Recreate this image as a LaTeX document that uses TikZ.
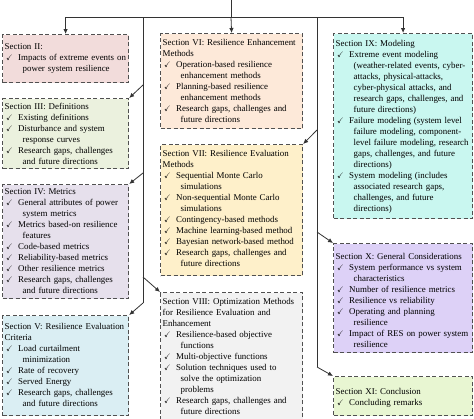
\documentclass[tikz,border=0pt]{standalone}
\usepackage{fontspec}
\setmainfont{Liberation Serif}
\usepackage{amssymb}
\usepackage{tikz}
\usetikzlibrary{arrows.meta, positioning, calc}

% box colours
\definecolor{fillII}{HTML}{F2DCDB}
\definecolor{fillIII}{HTML}{EBF1DE}
\definecolor{fillIV}{HTML}{E6E0EC}
\definecolor{fillV}{HTML}{DAEEF3}
\definecolor{fillVI}{HTML}{FDE9D9}
\definecolor{fillVII}{HTML}{FEF0CA}
\definecolor{fillVIII}{HTML}{F2F2F2}
\definecolor{fillIX}{HTML}{C9F7F0}
\definecolor{fillX}{HTML}{DDD1F7}
\definecolor{fillXI}{HTML}{E8F6D2}
\definecolor{edgegray}{HTML}{505050}

% check item with hanging indent
\newcommand{\chk}{\par\hangindent=18pt\hangafter=1\noindent\makebox[13.5pt][l]{\hspace{1.5pt}\scalebox{0.9}{$\checkmark$}}}

\begin{document}
\begin{tikzpicture}[x=1pt, y=-1pt,
    secbox/.style={draw=edgegray, line width=1.2pt, dash pattern=on 4pt off 2.5pt,
        anchor=north west, inner sep=0pt},
    sectext/.style={anchor=north west, inner sep=0pt, align=left,
        font=\fontsize{8.9}{11}\selectfont},
    wire/.style={draw=black!80, line width=0.8pt},
    arr/.style={wire, -{Latex[length=5pt,width=4.5pt]}}]

            \useasboundingbox (0,0) rectangle (474,418);

            % Left column
            \node[secbox, fill=fillII, minimum width=126pt, minimum height=48pt] (s2) at (2,34) {};
            \node[sectext, text width=123pt] (t2) at ([xshift=2.5pt,yshift=-9pt]s2.north west) {Section II:
                \chk Impacts of extreme events on\newline power system resilience\par};

            \node[secbox, fill=fillIII, minimum width=126pt, minimum height=70pt] (s3) at (2,98) {};
            \node[sectext, text width=123pt] (t3) at ([xshift=2.5pt,yshift=-5pt]s3.north west) {Section III: Definitions
                \chk Existing definitions
                \chk Disturbance and system\newline response curves
                \chk Research gaps, challenges\newline and future directions\par};

            \node[secbox, fill=fillIV, minimum width=126pt, minimum height=114pt] (s4) at (2,184) {};
            \node[sectext, text width=123pt] (t4) at ([xshift=2.5pt,yshift=-4pt]s4.north west) {Section IV: Metrics
                \chk General attributes of power\newline system metrics
                \chk Metrics based-on resilience\newline features
                \chk Code-based metrics
                \chk Reliability-based metrics
                \chk Other resilience metrics
                \chk Research gaps, challenges\newline and future directions\par};

            \node[secbox, fill=fillV, minimum width=126pt, minimum height=100pt] (s5) at (2,315) {};
            \node[sectext, text width=123pt] (t5) at ([xshift=2.5pt,yshift=-8pt]s5.north west) {Section V: Resilience Evaluation\newline Criteria
                \chk Load curtailment\newline minimization
                \chk Rate of recovery
                \chk Served Energy
                \chk Research gaps, challenges\newline and future directions\par};

            % Middle column
            \node[secbox, fill=fillVI, minimum width=142pt, minimum height=95pt] (s6) at (160,33) {};
            \node[sectext, text width=139pt] (t6) at ([xshift=2.5pt,yshift=-6pt]s6.north west) {Section VI: Resilience Enhancement\newline Methods
                \chk Operation-based resilience\newline enhancement methods
                \chk Planning-based resilience\newline enhancement methods
                \chk Research gaps, challenges and\newline future directions\par};

            \node[secbox, fill=fillVII, minimum width=142pt, minimum height=131pt] (s7) at (160,144) {};
            \node[sectext, text width=139pt] (t7) at ([xshift=2.5pt,yshift=-6pt]s7.north west) {Section VII: Resilience Evaluation\newline Methods
                \chk Sequential Monte Carlo\newline simulations
                \chk Non-sequential Monte Carlo\newline simulations
                \chk Contingency-based methods
                \chk Machine learning-based method
                \chk Bayesian network-based method
                \chk Research gaps, challenges and\newline future directions\par};

            \node[secbox, fill=fillVIII, minimum width=142pt, minimum height=132pt] (s8) at (160,292) {};
            \node[sectext, text width=139pt] (t8) at ([xshift=2.5pt,yshift=-6pt]s8.north west) {Section VIII: Optimization Methods\newline for Resilience Evaluation and\newline Enhancement
                \chk Resilience-based objective\newline functions
                \chk Multi-objective functions
                \chk Solution techniques used to\newline solve the optimization\newline problems
                \chk Research gaps, challenges and\newline future directions\par};

            % Right column
            \node[secbox, fill=fillIX, minimum width=139pt, minimum height=185pt] (s9) at (333,33) {};
            \node[sectext, text width=136pt] (t9) at ([xshift=2.5pt,yshift=-7pt]s9.north west) {Section IX: Modeling
                \chk Extreme event modeling\newline (weather-related events, cyber-\newline attacks, physical-attacks,\newline cyber-physical attacks, and\newline research gaps, challenges, and\newline future directions)
                \chk Failure modeling (system level\newline failure modeling, component-\newline level failure modeling, research\newline gaps, challenges, and future\newline directions)
                \chk System modeling (includes\newline associated research gaps,\newline challenges, and future\newline directions)\par};

            \node[secbox, fill=fillX, minimum width=139pt, minimum height=109pt] (s10) at (333,243) {};
            \node[sectext, text width=136pt] (t10) at ([xshift=2.5pt,yshift=-10pt]s10.north west) {Section X: General Considerations
                \chk System performance vs system\newline characteristics
                \chk Number of resilience metrics
                \chk Resilience vs reliability
                \chk Operating and planning\newline resilience
                \chk Impact of RES on power system\newline resilience\par};

            \node[secbox, fill=fillXI, minimum width=139pt, minimum height=39pt] (s11) at (333,376) {};
            \node[sectext, text width=136pt] (t11) at ([xshift=2.5pt,yshift=-12pt]s11.north west) {Section XI: Conclusion
                \chk Concluding remarks\par};

            % Top distribution lines
            \coordinate (top) at (231,0);
            \coordinate (hub) at (231,17);
            \coordinate (lspine) at (143,17);
            \coordinate (rspine) at (317,17);
            \draw[wire] (top) -- (hub);
            \draw[wire] (s2.north |- hub) -- (s9.north |- hub);
            \draw[arr] (hub) -- (s6.north); % to Section VI
            \draw[arr] (s2.north |- hub) -- (s2.north); % to Section II
            \draw[arr] (s9.north |- hub) -- (s9.north); % to Section IX

            % Left spine
            \coordinate (l3) at (143,85);
            \coordinate (l4) at (143,173);
            \coordinate (l8) at (143,277);
            \coordinate (l5) at (143,303);
            \draw[wire] (lspine) -- (l5);
            \draw[arr] (l3) -- (s3.north east);
            \draw[arr] (l4) -- (s4.north east);
            \draw[arr] (l8) -- (s8.north west);
            \draw[arr] (l5) -- (s5.north east);

            % Right spine
            \coordinate (r7) at (317,130);
            \coordinate (r10) at (317,232);
            \coordinate (r11) at (317,367);
            \draw[wire] (rspine) -- (r11);
            \draw[arr] (r7) -- (s7.north east);
            \draw[arr] (r10) -- (s10.north west);
            \draw[arr] (r11) -- (s11.north west);

\end{tikzpicture}
\end{document}
